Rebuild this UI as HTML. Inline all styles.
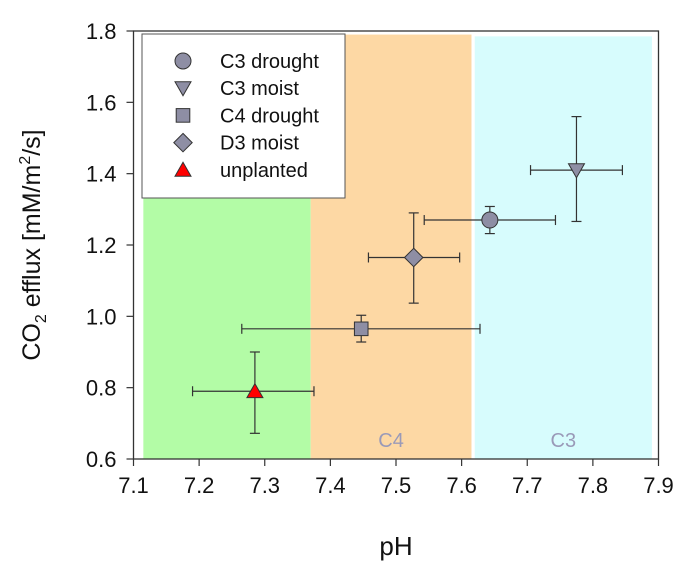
<!DOCTYPE html>
<html><head><meta charset="utf-8"><style>
body{margin:0;background:#fff;}
svg{display:block;font-family:"Liberation Sans",Arial,sans-serif;}
</style></head><body>
<svg id="chart" width="685" height="567"></svg>
<script>
const xTicks=[7.1,7.2,7.3,7.4,7.5,7.6,7.7,7.8,7.9];
const yTicks=[0.6,0.8,1.0,1.2,1.4,1.6,1.8];
const seriesNames=["C3 drought","C3 moist","C4 drought","D3 moist","unplanted"];
const seriesShapes=["circle","tridown","square","diamond","triup"];
const phValues=[7.643,7.775,7.447,7.527,7.285];
const effluxValues=[1.27,1.41,0.965,1.165,0.79];
const phLow=[7.543,7.705,7.265,7.458,7.19];
const phHigh=[7.743,7.845,7.628,7.597,7.375];
const effLow=[1.232,1.266,0.928,1.037,0.672];
const effHigh=[1.308,1.56,1.003,1.29,0.90];
const zoneNames=["green-zone","c4-zone","c3-zone"];
const zoneStart=[7.115,7.37,7.62];
const zoneEnd=[7.37,7.615,7.89];
const zoneTop=[1.79,1.79,1.785];

const X0=133.5,X1=658.5,Y0=459,Y1=31;
const sx=v=>X0+(v-7.1)/0.8*(X1-X0);
const sy=v=>Y0-(v-0.6)/1.2*(Y0-Y1);
const svg=document.getElementById('chart');
const NS="http://www.w3.org/2000/svg";
function mk(t,a,p){const e=document.createElementNS(NS,t);for(const k in a)e.setAttribute(k,a[k]);(p||svg).appendChild(e);return e;}
const zoneColors=["#b3fca6","#fdd8a4","#d7fcfd"];
for(let i=0;i<zoneStart.length;i++){
  const r=mk('rect',{x:sx(zoneStart[i]),y:sy(zoneTop[i]),width:sx(zoneEnd[i])-sx(zoneStart[i]),height:sy(0.6)-sy(zoneTop[i]),fill:zoneColors[i]});
  
  
}
let t=mk('text',{x:(sx(7.37)+sx(7.615))/2,y:447,'text-anchor':'middle','font-size':20,fill:'#9a9ab8'});t.textContent='C4';

t=mk('text',{x:(sx(7.62)+sx(7.89))/2,y:447,'text-anchor':'middle','font-size':20,fill:'#9a9ab8'});t.textContent='C3';

const fr=mk('rect',{x:X0,y:Y1,width:X1-X0,height:Y0-Y1,fill:'none',stroke:'#333','stroke-width':1.3});

for(const v of xTicks){
  mk('line',{x1:sx(v),x2:sx(v),y1:Y0,y2:Y0+7,stroke:'#333','stroke-width':1.2});
  const l=mk('text',{x:sx(v),y:Y0+34,'text-anchor':'middle','font-size':22,fill:'#111'});l.textContent=v.toFixed(1);
  
}
for(const v of yTicks){
  mk('line',{x1:X0-7,x2:X0,y1:sy(v),y2:sy(v),stroke:'#333','stroke-width':1.2});
  const l=mk('text',{x:X0-17,y:sy(v)+8,'text-anchor':'end','font-size':22,fill:'#111'});l.textContent=v.toFixed(1);
  
}
t=mk('text',{x:(X0+X1)/2,y:555,'text-anchor':'middle','font-size':26,fill:'#111'});t.textContent='pH';

t=mk('text',{x:0,y:0,'text-anchor':'middle','font-size':25,fill:'#111',transform:'translate(40,245) rotate(-90)'});
t.innerHTML='CO<tspan font-size="16" dy="6">2</tspan><tspan dy="-6"> efflux [mM/m</tspan><tspan font-size="16" dy="-10">2</tspan><tspan dy="10">/s]</tspan>';


function marker(shape,cx,cy,s,g){
  const fill=shape==='triup'?'#f00':'#8e8ea4';
  const st={fill:fill,stroke:'#333','stroke-width':1};
  if(shape==='circle')return mk('circle',Object.assign({cx:cx,cy:cy,r:s},st),g);
  if(shape==='square')return mk('rect',Object.assign({x:cx-s*0.85,y:cy-s*0.85,width:s*1.7,height:s*1.7},st),g);
  if(shape==='diamond')return mk('polygon',Object.assign({points:`${cx},${cy-s*1.15} ${cx+s*1.15},${cy} ${cx},${cy+s*1.15} ${cx-s*1.15},${cy}`},st),g);
  if(shape==='tridown')return mk('polygon',Object.assign({points:`${cx-s},${cy-s*0.8} ${cx+s},${cy-s*0.8} ${cx},${cy+s*0.95}`},st),g);
  return mk('polygon',Object.assign({points:`${cx-s},${cy+s*0.8} ${cx+s},${cy+s*0.8} ${cx},${cy-s*0.95}`},st),g);
}
for(let i=0;i<phValues.length;i++){
  const g=mk('g',{});
  
  
  const x=sx(phValues[i]),y=sy(effluxValues[i]),a=sx(phLow[i]),b=sx(phHigh[i]),c=sy(effLow[i]),d=sy(effHigh[i]);
  const ls={stroke:'#333','stroke-width':1.2};
  mk('line',Object.assign({x1:a,x2:b,y1:y,y2:y},ls),g);
  mk('line',Object.assign({x1:a,x2:a,y1:y-5,y2:y+5},ls),g);
  mk('line',Object.assign({x1:b,x2:b,y1:y-5,y2:y+5},ls),g);
  mk('line',Object.assign({x1:x,x2:x,y1:c,y2:d},ls),g);
  mk('line',Object.assign({x1:x-5,x2:x+5,y1:c,y2:c},ls),g);
  mk('line',Object.assign({x1:x-5,x2:x+5,y1:d,y2:d},ls),g);
  marker(seriesShapes[i],x,y,8,g);
}
const lg=mk('g',{});

mk('rect',{x:142,y:34,width:203,height:164,fill:'#fff',stroke:'#555','stroke-width':1},lg);
for(let i=0;i<seriesNames.length;i++){
  const y=61+i*27.2;
  const e=mk('g',{},lg);
  
  marker(seriesShapes[i],183,y,8,e);
  const tx=mk('text',{x:220,y:y+7,'font-size':20,fill:'#111'},e);tx.textContent=seriesNames[i];
}
</script>
</body></html>
